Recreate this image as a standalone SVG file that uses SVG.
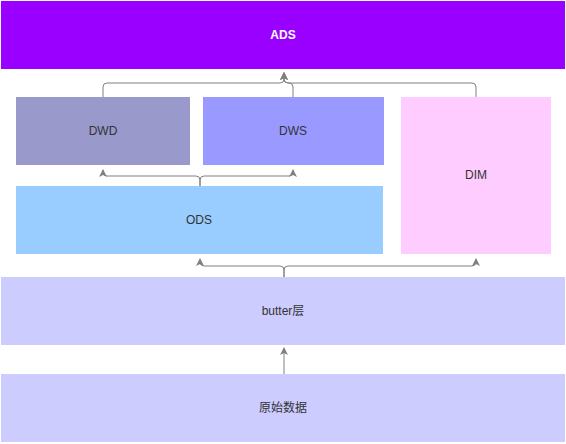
<svg xmlns="http://www.w3.org/2000/svg" width="566" height="444" viewBox="0 0 566 444">
<style>
text{font-family:"Liberation Sans","Noto Sans CJK SC",sans-serif;font-size:12px;fill:#333333;text-anchor:middle;dominant-baseline:central}
.c{fill:none;stroke:#808080;stroke-width:1}
</style>
<defs>
<marker id="ah" markerWidth="10" markerHeight="10" refX="7" refY="4" orient="auto" markerUnits="userSpaceOnUse">
<path d="M0,0 L8,4 L0,8 L2,4 Z" fill="#808080"/>
</marker>
</defs>
<rect width="566" height="444" fill="#ffffff"/>
<g id="connectors">
<path class="c" marker-end="url(#ah)" d="M103,97 V87 Q103,83 107,83 H280 Q284,83 284,79 V73"/>
<path class="c" marker-end="url(#ah)" d="M293,97 V87 Q293,83 289,83 H288 Q284,83 284,79 V73"/>
<path class="c" marker-end="url(#ah)" d="M476,97 V87 Q476,83 472,83 H288 Q284,83 284,79 V73"/>
<path class="c" marker-end="url(#ah)" d="M200,186 V180 Q200,176 196,176 H107 Q103,176 103,172 V170"/>
<path class="c" marker-end="url(#ah)" d="M200,186 V180 Q200,176 204,176 H289 Q293,176 293,172 V170"/>
<path class="c" marker-end="url(#ah)" d="M284,277 V270 Q284,266 280,266 H204 Q200,266 200,262 V259"/>
<path class="c" marker-end="url(#ah)" d="M284,277 V270 Q284,266 288,266 H472 Q476,266 476,262 V259"/>
<path class="c" marker-end="url(#ah)" d="M284,374 V348"/>
</g>
<g id="ADS"><rect x="1" y="1" width="564" height="68" fill="#9900FF"/><text x="283" y="35" style="fill:#ffffff;font-weight:bold">ADS</text></g>
<g id="DWD"><rect x="16" y="97" width="174" height="68" fill="#9999CC"/><text x="103" y="131">DWD</text></g>
<g id="DWS"><rect x="203" y="97" width="181" height="68" fill="#9999FF"/><text x="293" y="131">DWS</text></g>
<g id="DIM"><rect x="401" y="97" width="150" height="157" fill="#FFCCFF"/><text x="476" y="175">DIM</text></g>
<g id="ODS"><rect x="16" y="186" width="367" height="68" fill="#99CCFF"/><text x="199" y="220">ODS</text></g>
<g id="butter"><rect x="1" y="277" width="564" height="68" fill="#CCCCFF"/><text x="283" y="311">butter层</text></g>
<g id="raw"><rect x="1" y="374" width="564" height="68" fill="#CCCCFF"/><text x="283" y="408">原始数据</text></g>
</svg>
